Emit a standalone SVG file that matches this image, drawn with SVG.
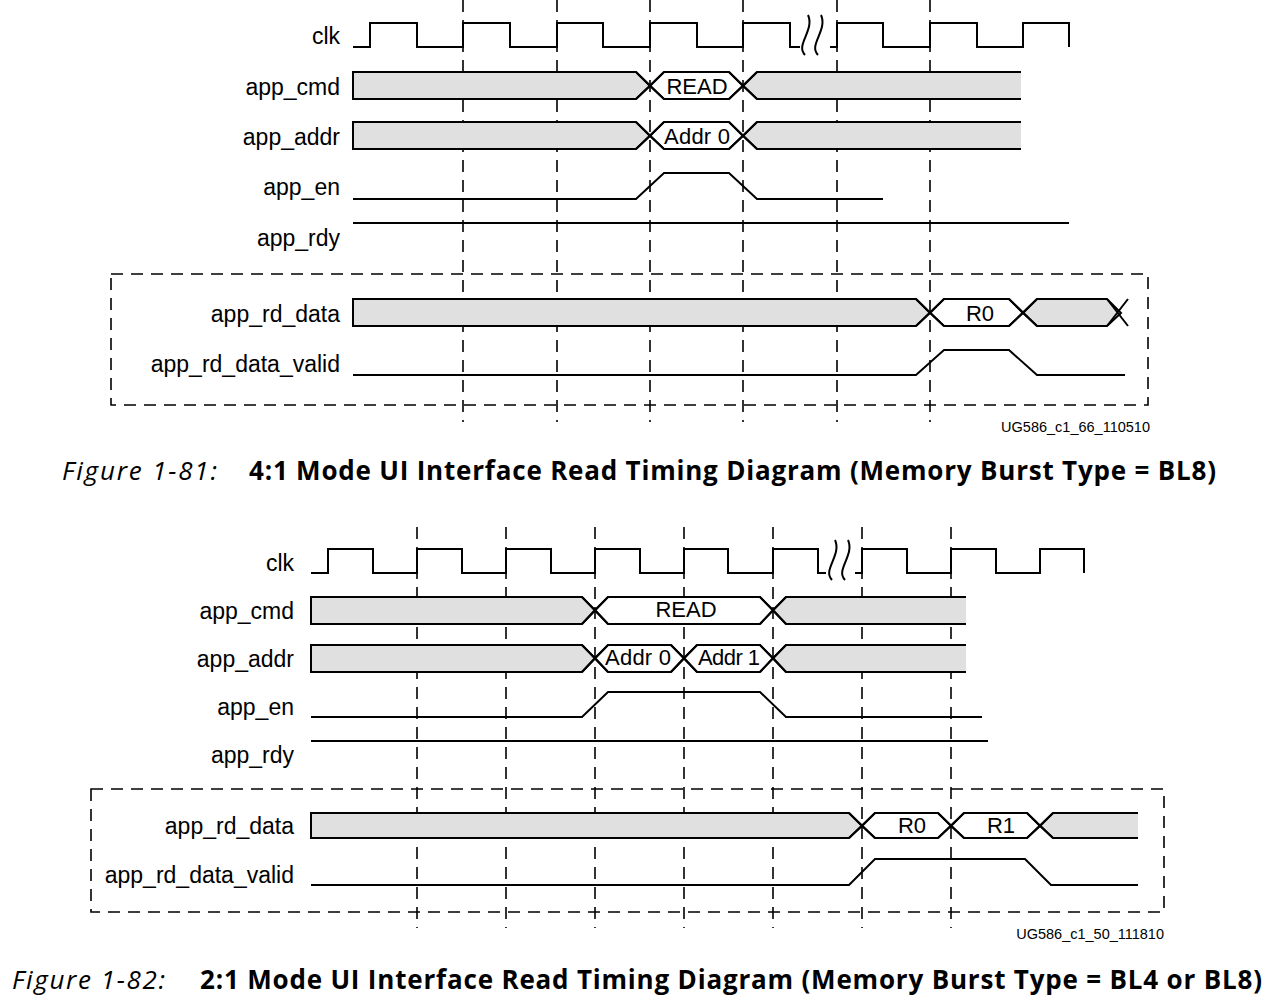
<svg xmlns="http://www.w3.org/2000/svg" width="1275" height="1006" viewBox="0 0 1275 1006">
<style>
.w{fill:none;stroke:#000;stroke-width:2}
.g{fill:#e0e0e0;stroke:#000;stroke-width:2}
.b{fill:#fff;stroke:#000;stroke-width:2}
.d{fill:none;stroke:#000;stroke-width:1.6;stroke-dasharray:12,8}
.l{font-family:"Liberation Sans",Arial,sans-serif;font-size:23px;text-anchor:end}
.v{font-family:"Liberation Sans",Arial,sans-serif;font-size:22px;text-anchor:middle}
.id{font-family:"Liberation Sans",Arial,sans-serif;font-size:14.5px;text-anchor:end}
.c{font-family:"Open Sans","Noto Sans",sans-serif;font-size:26px}
</style>
<rect width="1275" height="1006" fill="#fff"/>
<g id="fig1">
<g id="grid1">
<path class="d" d="M463 0V422M557 0V422M650 0V422M743 0V422M837 0V422M930 0V422"/>
<rect class="d" x="111" y="274" width="1037" height="131"/>
</g>
<g id="labels1">
<text class="l" x="340" y="44">clk</text>
<text class="l" x="340" y="95">app_cmd</text>
<text class="l" x="340" y="145">app_addr</text>
<text class="l" x="340" y="195">app_en</text>
<text class="l" x="340" y="246">app_rdy</text>
<text class="l" x="340" y="322">app_rd_data</text>
<text class="l" x="340" y="372">app_rd_data_valid</text>
</g>
<g id="signals1">
<path class="w" d="M353 47H370V23H417V47H463V23H510V47H557V23H603V47H650V23H697V47H743V23H790V47H800M830 47H837V23H883V47H930V23H977V47H1023V23H1069V47"/>
<path class="w" d="M805 55C795 45 815 30 808 15M818 55C808 45 828 30 821 15"/>
<path class="g" d="M353 72H636L650 86L636 99H353Z"/>
<path class="b" d="M650 86L664 72H729L743 86L729 99H664Z"/>
<path class="g" d="M1021 72H757L743 86L757 99H1021"/>
<path class="w" d="M636 72L664 99M636 99L664 72M729 72L757 99M729 99L757 72"/>
<text class="v" x="697" y="94">READ</text>
<path class="g" d="M353 122H636L650 136L636 149H353Z"/>
<path class="b" d="M650 136L664 122H729L743 136L729 149H664Z"/>
<path class="g" d="M1021 122H757L743 136L757 149H1021"/>
<path class="w" d="M636 122L664 149M636 149L664 122M729 122L757 149M729 149L757 122"/>
<text class="v" x="697" y="144" textLength="66">Addr 0</text>
<path class="w" d="M353 199H636L664 173H729L757 199H883"/>
<path class="w" d="M353 223H1069"/>
<path class="g" d="M353 299H916L930 313L916 326H353Z"/>
<path class="b" d="M930 313L944 299H1009L1023 313L1009 326H944Z"/>
<path class="g" d="M1023 313L1037 299H1107L1121 313L1107 326H1037Z"/>
<path class="w" d="M916 299L944 326M916 326L944 299M1009 299L1037 326M1009 326L1037 299M1107 299L1128 326M1107 326L1128 299"/>
<text class="v" x="980" y="321">R0</text>
<path class="w" d="M353 375H916L944 350H1009L1037 375H1125"/>
<text class="id" x="1150" y="432">UG586_c1_66_110510</text>
</g>
<text class="c" x="62" y="480"><tspan font-style="italic" textLength="155">Figure 1-81:</tspan><tspan x="249" font-weight="bold" textLength="967">4:1 Mode UI Interface Read Timing Diagram (Memory Burst Type = BL8)</tspan></text>
</g>
<g id="fig2">
<g id="grid2">
<path class="d" d="M417 527V928M506 527V928M595 527V928M684 527V928M773 527V928M862 527V928M951 527V928"/>
<rect class="d" x="91" y="789" width="1073" height="123"/>
</g>
<g id="labels2">
<text class="l" x="294" y="571">clk</text>
<text class="l" x="294" y="619">app_cmd</text>
<text class="l" x="294" y="667">app_addr</text>
<text class="l" x="294" y="715">app_en</text>
<text class="l" x="294" y="763">app_rdy</text>
<text class="l" x="294" y="834">app_rd_data</text>
<text class="l" x="294" y="883">app_rd_data_valid</text>
</g>
<g id="signals2">
<path class="w" d="M311 573H328V549H373V573H417V549H462V573H506V549H551V573H595V549H640V573H684V549H728V573H773V549H818V573H826M855 573H862V549H907V573H951V549H996V573H1040V549H1084V573"/>
<path class="w" d="M832 580C822 570 842 555 835 540M845 580C835 570 855 555 848 540"/>
<path class="g" d="M311 597H582L595 610L582 624H311Z"/>
<path class="b" d="M595 610L608 597H760L773 610L760 624H608Z"/>
<path class="g" d="M966 597H786L773 610L786 624H966"/>
<path class="w" d="M582 597L608 624M582 624L608 597M760 597L786 624M760 624L786 597"/>
<text class="v" x="686" y="617">READ</text>
<path class="g" d="M311 645H582L595 658L582 672H311Z"/>
<path class="b" d="M595 658L608 645H671L684 658L671 672H608Z"/>
<path class="b" d="M684 658L697 645H760L773 658L760 672H697Z"/>
<path class="g" d="M966 645H786L773 658L786 672H966"/>
<path class="w" d="M582 645L608 672M582 672L608 645M671 645L697 672M671 672L697 645M760 645L786 672M760 672L786 645"/>
<text class="v" x="638" y="665" textLength="66">Addr 0</text>
<text class="v" x="729" y="665" textLength="62">Addr 1</text>
<path class="w" d="M311 717H582L608 692H760L786 717H982"/>
<path class="w" d="M311 741H988"/>
<path class="g" d="M311 813H849L862 826L849 838H311Z"/>
<path class="b" d="M862 826L875 813H938L951 826L938 838H875Z"/>
<path class="b" d="M951 826L964 813H1027L1040 826L1027 838H964Z"/>
<path class="g" d="M1138 813H1053L1040 826L1053 838H1138"/>
<path class="w" d="M849 813L875 838M849 838L875 813M938 813L964 838M938 838L964 813M1027 813L1053 838M1027 838L1053 813"/>
<text class="v" x="912" y="833">R0</text>
<text class="v" x="1001" y="833">R1</text>
<path class="w" d="M311 885H849L875 859H1025L1051 885H1138"/>
<text class="id" x="1164" y="939">UG586_c1_50_111810</text>
</g>
<text class="c" x="12" y="989"><tspan font-style="italic" textLength="153">Figure 1-82:</tspan><tspan x="200" font-weight="bold" textLength="1062">2:1 Mode UI Interface Read Timing Diagram (Memory Burst Type = BL4 or BL8)</tspan></text>
</g>
</svg>
